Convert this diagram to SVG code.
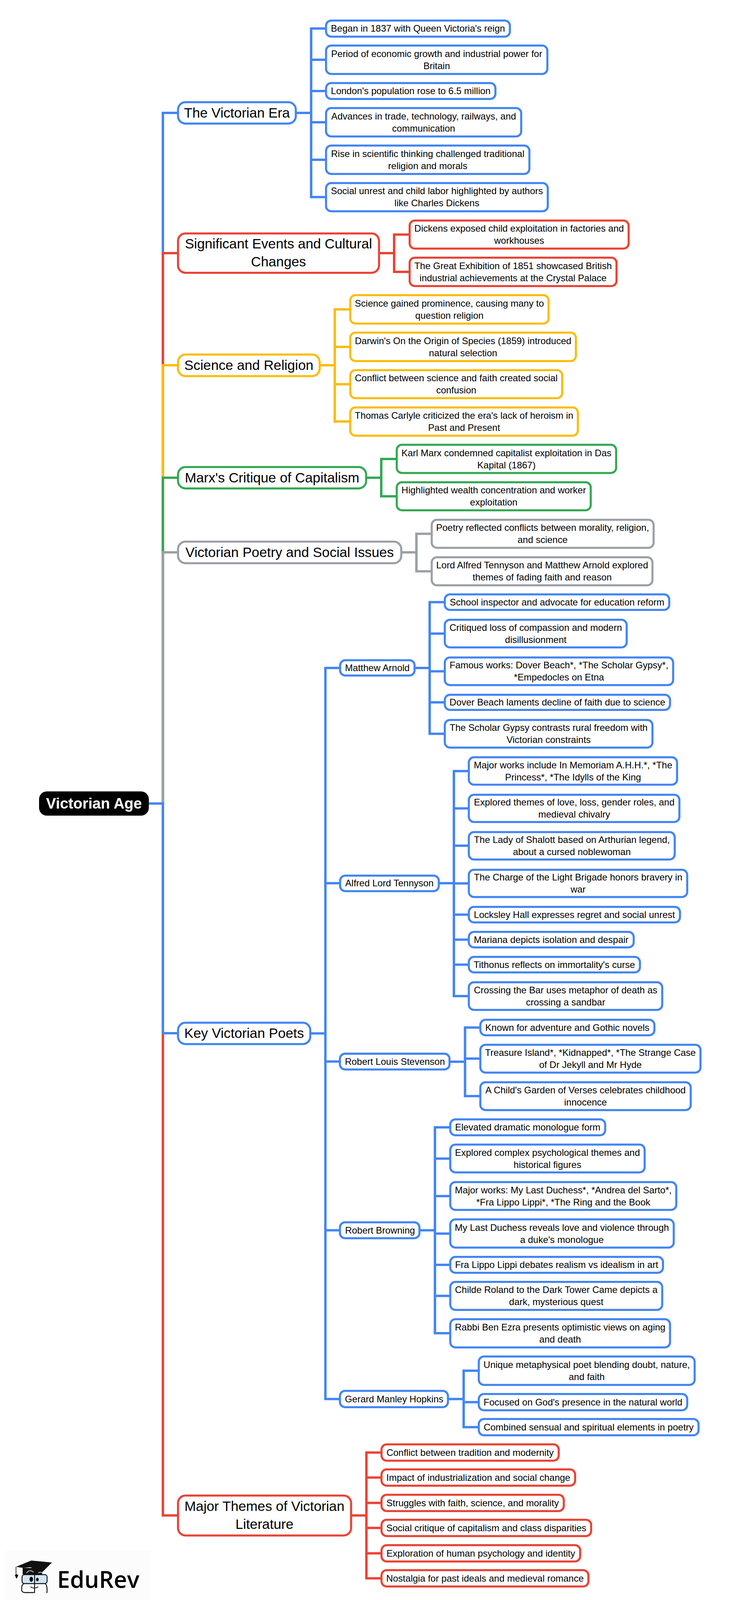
<svg xmlns="http://www.w3.org/2000/svg" width="1897" height="4115" viewBox="0 0 1897 4115">
<style>
text{font-family:"Liberation Sans",Arial,sans-serif;text-anchor:middle;fill:#000}
.l{font-size:24px}
.h{font-size:35.2px}
.r{font-size:38.4px;font-weight:700;fill:#fff}
rect.s{fill:#fff;stroke-width:5.3px;rx:13px;ry:13px}
rect.m{fill:#fff;stroke-width:5.3px;rx:19px;ry:19px}
.bl{stroke:#4285f4}.re{stroke:#ea4335}.ye{stroke:#fbbc04}.gr{stroke:#34a853}.gy{stroke:#9aa0a6}
#connectors path{fill:none;stroke-width:6.2px;stroke-linejoin:miter}
</style>
<rect width="1897" height="4115" fill="#fff"/>
<g id="connectors">
<path class="re" d="M417 2057V3879.5H454"/>
<path class="bl" d="M381 2057H417V289H454"/>
<path class="re" d="M417 2057V648H454"/>
<path class="ye" d="M417 2057V935H454"/>
<path class="gr" d="M417 2057V1223H454"/>
<path class="gy" d="M417 2057V1414H454"/>
<path class="bl" d="M381 2057H417V2645H454"/>
<path class="bl" d="M759 289H796.5M834 73H796.5V504.5H834M796.5 153H834M796.5 233H834M796.5 313H834M796.5 409H834"/>
<path class="re" d="M972 648H1009M1047 600.5H1009V696H1047"/>
<path class="ye" d="M820 935H857M895 792H857V1079H895M857 888H895M857 983.5H895"/>
<path class="gr" d="M939 1223H976M1014 1175H976V1270.5H1014"/>
<path class="gy" d="M1029 1414H1066M1104 1366.5H1066V1462.5H1104"/>
<path class="bl" d="M796 2645.500H833M869 1710H833V3581.5H869M833 2261H869M833 2717.500H869M833 3149.5H869"/>
<path class="bl" d="M1063 1710H1100M1137 1541.5H1100V1878.5H1137M1100 1622H1137M1100 1718.5H1137M1100 1798H1137"/>
<path class="bl" d="M1125 2261H1162M1199 1974H1162V2550H1199M1162 2069.5H1199M1162 2165H1199M1162 2261.5H1199M1162 2341.5H1199M1162 2405.5H1199M1162 2469.5H1199"/>
<path class="bl" d="M1153 2718H1190.5M1228 2630.5H1190.5V2806H1228M1190.5 2710H1228"/>
<path class="bl" d="M1076 3149.5H1113.5M1151 2886H1113.5V3413H1151M1113.5 2966H1151M1113.5 3062H1151M1113.5 3158H1151M1113.5 3238H1151M1113.5 3317.5H1151"/>
<path class="bl" d="M1149 3581.5H1187M1224 3509H1187V3653.5H1224M1187 3589.5H1224"/>
<path class="re" d="M900 3879.5H938M975 3718.5H938V4040.5H975M938 3782.5H975M938 3847.5H975M938 3911.5H975M938 3976.5H975"/>
</g>
<g id="root"><rect x="100" y="2026" width="281" height="62" rx="20" ry="20" fill="#000"/><text class="r" x="240.5" y="2069.5">Victorian Age</text></g>

<g id="era"><rect class="m bl" x="455.7" y="261.7" width="301.6" height="54.6"/><text class="h" x="606.5" y="300.5">The Victorian Era</text></g>
<g id="era-1"><rect class="s bl" x="834.7" y="52.7" width="470.6" height="41.1"/><text class="l" x="1070" y="81">Began in 1837 with Queen Victoria's reign</text></g>
<g id="era-2"><rect class="s bl" x="834.7" y="116.7" width="566.6" height="72.6"/><text class="l" x="1118" y="145.5">Period of economic growth and industrial power for</text><text class="l" x="1118" y="176.5">Britain</text></g>
<g id="era-3"><rect class="s bl" x="834.7" y="212.7" width="433.6" height="40.6"/><text class="l" x="1051.5" y="241">London's population rose to 6.5 million</text></g>
<g id="era-4"><rect class="s bl" x="834.7" y="276.7" width="499.6" height="72.6"/><text class="l" x="1084.5" y="305.5">Advances in trade, technology, railways, and</text><text class="l" x="1084.5" y="336.5">communication</text></g>
<g id="era-5"><rect class="s bl" x="834.7" y="372.7" width="520.6" height="72.6"/><text class="l" x="1095" y="401.5">Rise in scientific thinking challenged traditional</text><text class="l" x="1095" y="432.5">religion and morals</text></g>
<g id="era-6"><rect class="s bl" x="834.7" y="468.7" width="567.6" height="72.1"/><text class="l" x="1118.5" y="497">Social unrest and child labor highlighted by authors</text><text class="l" x="1118.5" y="528">like Charles Dickens</text></g>

<g id="events"><rect class="m re" x="455.7" y="597.7" width="514.6" height="100.6"/><text class="h" x="713" y="636">Significant Events and Cultural</text><text class="h" x="713" y="682">Changes</text></g>
<g id="events-1"><rect class="s re" x="1048.7" y="564.7" width="560.6" height="71.6"/><text class="l" x="1329" y="593">Dickens exposed child exploitation in factories and</text><text class="l" x="1329" y="624">workhouses</text></g>
<g id="events-2"><rect class="s re" x="1048.7" y="659.7" width="529.6" height="72.6"/><text class="l" x="1313.5" y="688.5">The Great Exhibition of 1851 showcased British</text><text class="l" x="1313.5" y="719.5">industrial achievements at the Crystal Palace</text></g>

<g id="science"><rect class="m ye" x="455.7" y="907.7" width="362.6" height="55.1"/><text class="h" x="637" y="947">Science and Religion</text></g>
<g id="science-1"><rect class="s ye" x="896.7" y="755.7" width="507.6" height="72.6"/><text class="l" x="1150.5" y="784.5">Science gained prominence, causing many to</text><text class="l" x="1150.5" y="815.5">question religion</text></g>
<g id="science-2"><rect class="s ye" x="896.7" y="851.7" width="577.6" height="72.6"/><text class="l" x="1185.5" y="880.5">Darwin's On the Origin of Species (1859) introduced</text><text class="l" x="1185.5" y="911.5">natural selection</text></g>
<g id="science-3"><rect class="s ye" x="896.7" y="947.7" width="542.6" height="71.6"/><text class="l" x="1168" y="976">Conflict between science and faith created social</text><text class="l" x="1168" y="1007">confusion</text></g>
<g id="science-4"><rect class="s ye" x="896.7" y="1043.2" width="582.6" height="72.1"/><text class="l" x="1188" y="1071.5">Thomas Carlyle criticized the era's lack of heroism in</text><text class="l" x="1188" y="1102.5">Past and Present</text></g>

<g id="marx"><rect class="m gr" x="455.7" y="1195.7" width="481.6" height="54.6"/><text class="h" x="696.5" y="1235">Marx's Critique of Capitalism</text></g>
<g id="marx-1"><rect class="s gr" x="1015.7" y="1138.7" width="561.6" height="72.1"/><text class="l" x="1296.5" y="1167.5">Karl Marx condemned capitalist exploitation in Das</text><text class="l" x="1296.5" y="1198.5">Kapital (1867)</text></g>
<g id="marx-2"><rect class="s gr" x="1015.7" y="1234.7" width="496.6" height="71.6"/><text class="l" x="1264" y="1263">Highlighted wealth concentration and worker</text><text class="l" x="1264" y="1294">exploitation</text></g>

<g id="poetry"><rect class="m gy" x="455.7" y="1386.7" width="571.6" height="55.1"/><text class="h" x="741.5" y="1426">Victorian Poetry and Social Issues</text></g>
<g id="poetry-1"><rect class="s gy" x="1105.2" y="1330.7" width="568.1" height="71.6"/><text class="l" x="1389" y="1359">Poetry reflected conflicts between morality, religion,</text><text class="l" x="1389" y="1390">and science</text></g>
<g id="poetry-2"><rect class="s gy" x="1105.2" y="1426.7" width="565.1" height="71.6"/><text class="l" x="1388" y="1455">Lord Alfred Tennyson and Matthew Arnold explored</text><text class="l" x="1388" y="1486">themes of fading faith and reason</text></g>

<g id="poets"><rect class="m bl" x="455.7" y="2618.2" width="338.6" height="54.6"/><text class="h" x="625" y="2657">Key Victorian Poets</text></g>
<g id="arnold"><rect class="s bl" x="870.7" y="1690.2" width="190.6" height="39.1"/><text class="l" x="966" y="1718">Matthew Arnold</text></g>
<g id="arnold-1"><rect class="s bl" x="1138.7" y="1521.7" width="574.6" height="39.6"/><text class="l" x="1426" y="1549.5">School inspector and advocate for education reform</text></g>
<g id="arnold-2"><rect class="s bl" x="1138.7" y="1586.7" width="465.6" height="70.6"/><text class="l" x="1371.5" y="1614.5">Critiqued loss of compassion and modern</text><text class="l" x="1371.5" y="1645.5">disillusionment</text></g>
<g id="arnold-3"><rect class="s bl" x="1138.7" y="1683.2" width="584.6" height="70.6"/><text class="l" x="1431" y="1711">Famous works: Dover Beach*, *The Scholar Gypsy*,</text><text class="l" x="1431" y="1742">*Empedocles on Etna</text></g>
<g id="arnold-4"><rect class="s bl" x="1138.7" y="1778.7" width="576.6" height="38.6"/><text class="l" x="1427" y="1806">Dover Beach laments decline of faith due to science</text></g>
<g id="arnold-5"><rect class="s bl" x="1138.7" y="1843.2" width="531.6" height="70.6"/><text class="l" x="1404.5" y="1871">The Scholar Gypsy contrasts rural freedom with</text><text class="l" x="1404.5" y="1902">Victorian constraints</text></g>

<g id="tennyson"><rect class="s bl" x="870.7" y="2241.7" width="252.6" height="39.6"/><text class="l" x="997" y="2269">Alfred Lord Tennyson</text></g>
<g id="tennyson-1"><rect class="s bl" x="1200.2" y="1938.7" width="533.1" height="70.1"/><text class="l" x="1467" y="1966.5">Major works include In Memoriam A.H.H.*, *The</text><text class="l" x="1467" y="1997.5">Princess*, *The Idylls of the King</text></g>
<g id="tennyson-2"><rect class="s bl" x="1200.2" y="2034.7" width="539.1" height="69.6"/><text class="l" x="1470" y="2062">Explored themes of love, loss, gender roles, and</text><text class="l" x="1470" y="2093">medieval chivalry</text></g>
<g id="tennyson-3"><rect class="s bl" x="1200.2" y="2130.2" width="527.1" height="70.1"/><text class="l" x="1464" y="2157.5">The Lady of Shalott based on Arthurian legend,</text><text class="l" x="1464" y="2188.5">about a cursed noblewoman</text></g>
<g id="tennyson-4"><rect class="s bl" x="1200.2" y="2226.7" width="559.1" height="69.6"/><text class="l" x="1480" y="2254">The Charge of the Light Brigade honors bravery in</text><text class="l" x="1480" y="2285">war</text></g>
<g id="tennyson-5"><rect class="s bl" x="1200.2" y="2321.7" width="540.6" height="39.6"/><text class="l" x="1470.5" y="2349.5">Locksley Hall expresses regret and social unrest</text></g>
<g id="tennyson-6"><rect class="s bl" x="1200.2" y="2385.7" width="422.1" height="39.6"/><text class="l" x="1411" y="2413.5">Mariana depicts isolation and despair</text></g>
<g id="tennyson-7"><rect class="s bl" x="1200.2" y="2449.7" width="438.1" height="39.6"/><text class="l" x="1419" y="2477.5">Tithonus reflects on immortality's curse</text></g>
<g id="tennyson-8"><rect class="s bl" x="1200.2" y="2514.7" width="495.1" height="70.6"/><text class="l" x="1448" y="2542.5">Crossing the Bar uses metaphor of death as</text><text class="l" x="1448" y="2573.5">crossing a sandbar</text></g>

<g id="stevenson"><rect class="s bl" x="870.2" y="2697.5" width="280.6" height="40.3"/><text class="l" x="1011" y="2726">Robert Louis Stevenson</text></g>
<g id="stevenson-1"><rect class="s bl" x="1229.7" y="2610.7" width="445.6" height="39.6"/><text class="l" x="1452.5" y="2638.5">Known for adventure and Gothic novels</text></g>
<g id="stevenson-2"><rect class="s bl" x="1229.7" y="2674.7" width="563.6" height="71.1"/><text class="l" x="1511.5" y="2702.5">Treasure Island*, *Kidnapped*, *The Strange Case</text><text class="l" x="1511.5" y="2733.5">of Dr Jekyll and Mr Hyde</text></g>
<g id="stevenson-3"><rect class="s bl" x="1229.7" y="2770.7" width="538.6" height="71.1"/><text class="l" x="1499" y="2798.5">A Child's Garden of Verses celebrates childhood</text><text class="l" x="1499" y="2829.5">innocence</text></g>

<g id="browning"><rect class="s bl" x="870.2" y="3129.2" width="203.6" height="40.6"/><text class="l" x="973" y="3157.5">Robert Browning</text></g>
<g id="browning-1"><rect class="s bl" x="1152.7" y="2865.7" width="396.6" height="40.6"/><text class="l" x="1351" y="2894">Elevated dramatic monologue form</text></g>
<g id="browning-2"><rect class="s bl" x="1152.7" y="2930.2" width="497.6" height="71.1"/><text class="l" x="1401.5" y="2958.5">Explored complex psychological themes and</text><text class="l" x="1401.5" y="2989.5">historical figures</text></g>
<g id="browning-3"><rect class="s bl" x="1152.7" y="3026.2" width="578.6" height="71.1"/><text class="l" x="1442" y="3054.5">Major works: My Last Duchess*, *Andrea del Sarto*,</text><text class="l" x="1442" y="3085.5">*Fra Lippo Lippi*, *The Ring and the Book</text></g>
<g id="browning-4"><rect class="s bl" x="1152.7" y="3121.7" width="572.1" height="72.1"/><text class="l" x="1438.5" y="3150.5">My Last Duchess reveals love and violence through</text><text class="l" x="1438.5" y="3181.5">a duke's monologue</text></g>
<g id="browning-5"><rect class="s bl" x="1152.7" y="3217.7" width="544.6" height="40.6"/><text class="l" x="1425" y="3246">Fra Lippo Lippi debates realism vs idealism in art</text></g>
<g id="browning-6"><rect class="s bl" x="1152.7" y="3281.7" width="542.6" height="71.6"/><text class="l" x="1424" y="3310">Childe Roland to the Dark Tower Came depicts a</text><text class="l" x="1424" y="3341">dark, mysterious quest</text></g>
<g id="browning-7"><rect class="s bl" x="1152.7" y="3377.2" width="562.6" height="72.1"/><text class="l" x="1434" y="3405.5">Rabbi Ben Ezra presents optimistic views on aging</text><text class="l" x="1434" y="3436.5">and death</text></g>

<g id="hopkins"><rect class="s bl" x="870.2" y="3560.7" width="276.6" height="41.6"/><text class="l" x="1009" y="3589.5">Gerard Manley Hopkins</text></g>
<g id="hopkins-1"><rect class="s bl" x="1225.7" y="3472.7" width="552.6" height="72.6"/><text class="l" x="1502" y="3501.5">Unique metaphysical poet blending doubt, nature,</text><text class="l" x="1502" y="3532.5">and faith</text></g>
<g id="hopkins-2"><rect class="s bl" x="1225.7" y="3568.7" width="533.6" height="41.6"/><text class="l" x="1492.5" y="3597.5">Focused on God's presence in the natural world</text></g>
<g id="hopkins-3"><rect class="s bl" x="1225.7" y="3632.7" width="562.6" height="41.6"/><text class="l" x="1507" y="3661.5">Combined sensual and spiritual elements in poetry</text></g>

<g id="themes"><rect class="m re" x="455.7" y="3828.7" width="443.1" height="102.1"/><text class="h" x="677" y="3868">Major Themes of Victorian</text><text class="h" x="677" y="3914">Literature</text></g>
<g id="themes-1"><rect class="s re" x="976.7" y="3697.7" width="453.6" height="41.6"/><text class="l" x="1203.5" y="3726.5">Conflict between tradition and modernity</text></g>
<g id="themes-2"><rect class="s re" x="976.7" y="3761.7" width="495.6" height="41.6"/><text class="l" x="1224.5" y="3790.5">Impact of industrialization and social change</text></g>
<g id="themes-3"><rect class="s re" x="976.7" y="3826.7" width="466.6" height="41.6"/><text class="l" x="1210" y="3855.5">Struggles with faith, science, and morality</text></g>
<g id="themes-4"><rect class="s re" x="976.7" y="3890.7" width="536.6" height="41.6"/><text class="l" x="1245" y="3919.5">Social critique of capitalism and class disparities</text></g>
<g id="themes-5"><rect class="s re" x="976.7" y="3955.7" width="508.6" height="41.6"/><text class="l" x="1231" y="3984.5">Exploration of human psychology and identity</text></g>
<g id="themes-6"><rect class="s re" x="976.7" y="4019.7" width="529.6" height="41.6"/><text class="l" x="1241.5" y="4048.5">Nostalgia for past ideals and medieval romance</text></g>

<g id="logo">
<rect x="10" y="3970" width="377" height="130" fill="#fcfcfc"/>
<path d="M58 4014H108V4030H58Z" fill="#111"/>
<path d="M41 4011L80 3995L133 4000L107 4026L78 4012L60 4014Z" fill="#111"/>
<path d="M68 4027Q76 4016 86 4025M98 4027Q104 4022 110 4028" fill="none" stroke="#fff" stroke-width="1.6"/>
<path d="M41 4011V4029" stroke="#111" stroke-width="1.6" fill="none"/>
<path d="M38 4032L42 4029L47 4033L42 4042Z" fill="#111"/>
<rect x="56.5" y="4031" width="64" height="23" rx="6" fill="#cfe6f6" stroke="#111" stroke-width="2.4"/>
<path d="M88.5 4027V4078" stroke="#111" stroke-width="2.4" fill="none"/>
<path d="M61 4054Q55 4058 55.500 4066V4070Q56 4077 64 4077H87M116 4054Q122 4060 120 4078" fill="none" stroke="#111" stroke-width="2.4"/>
<path d="M78 4062Q88 4069 98 4062" fill="none" stroke="#111" stroke-width="1.8"/>
<ellipse cx="80" cy="4043" rx="4.500" ry="6.500" fill="#000"/>
<ellipse cx="95.700" cy="4043.500" rx="3.300" ry="4.500" fill="#000"/>
<text x="251.500" y="4065" style="font-family:'Open Sans',sans-serif;font-weight:600;font-size:59px">EduRev</text>
</g>
</svg>
